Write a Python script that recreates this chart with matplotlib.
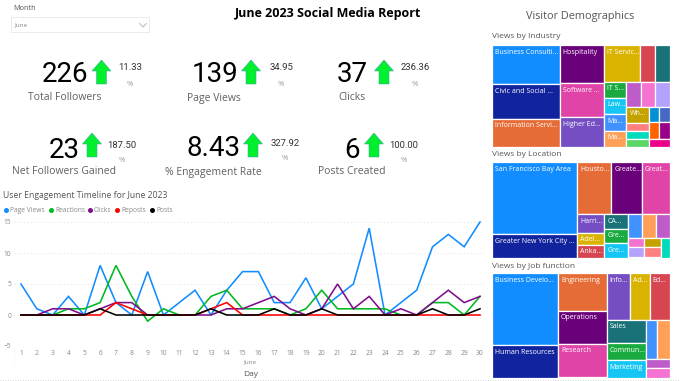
import matplotlib
matplotlib.use('Agg')
import matplotlib.pyplot as plt
from matplotlib.patches import Rectangle

plt.rcParams['font.family'] = ['Open Sans', 'DejaVu Sans']

W, H = 680, 381

# line chart data
days = list(range(1, 31))
page_views = [5, 1, 0, 3, 0, 8, 2, 0, 7, 0, 2, 4, 0, 4, 7, 7, 2, 2, 6, 1, 3, 5, 14, 0, 2, 4, 11, 13, 11, 15]
reactions = [0, 0, 0, 1, 1, 2, 8, 3, -1, 1, 0, 0, 3, 4, 1, 1, 1, 0, 1, 4, 1, 1, 1, 1, 0, 0, 2, 2, 0, 3]
clicks = [0, 0, 1, 1, 0, 1, 2, 2, 0, 0, 0, 0, 0, 1, 1, 2, 3, 1, 0, 1, 5, 1, 3, 0, 1, 0, 2, 4, 2, 3]
reposts = [0, 0, 0, 0, 0, 0, 2, 1, 0, 0, 0, 0, 1, 2, 0, 0, 0, 0, 0, 0, 0, 0, 0, 0, 0, 0, 0, 0, 0, 0]
posts = [0, 0, 0, 0, 0, 1, 0, 0, 0, 0, 0, 0, 1, 0, 0, 0, 1, 0, 0, 1, 0, 0, 0, 0, 0, 0, 1, 0, 0, 1]
y_ticks = [-5, 0, 5, 10, 15]

# kpi cards
kpi_values = ['226', '139', '37', '23', '8.43', '6']
kpi_labels = ['Total Followers', 'Page Views', 'Clicks', 'Net Followers Gained', '% Engagement Rate', 'Posts Created']
kpi_changes = ['11.33', '34.95', '236.36', '187.50', '327.92', '100.00']

# treemap data
palette = ['#118DFF', '#12239E', '#E66C37', '#6B007B', '#E044A7', '#744EC2', '#D9B300', '#D64550', '#197278',
           '#1AAB40', '#15C6F4', '#4092FF', '#FFA058', '#BE5DC9', '#F472D0', '#B5A1FF', '#C4A200', '#FF8080',
           '#00DBBC', '#5BD667', '#0091D5', '#4668C5', '#FF6300', '#99008A', '#EC008C']

industry_values = [22.8, 19.8, 16.2, 14.6, 12.9, 11.1, 11.3, 4.5, 4.6, 3.1, 3.1, 3.1, 3.0, 3.1, 3.1, 3.1,
                   3.0, 1.5, 1.5, 1.5, 1.4, 1.4, 1.45, 1.45, 1.4]
industry_labels = ['Business Consulti...', 'Civic and Social ...', 'Information Servi...', 'Hospitality',
                   'Software ...', 'Higher Ed...', 'IT Servic...', '', '', 'IT S...', 'Law...', 'Ma...', 'Ma...',
                   '', '', '', 'Wh...']
location_values = [52.6, 17.1, 15.2, 13.7, 12.2, 4.3, 2.8, 3.0, 2.9, 2.9, 2.9, 2.9, 2.9, 2.8, 1.35, 1.45,
                   1.35, 1.45, 1.4]
location_labels = ['San Francisco Bay Area', 'Greater New York City ...', 'Housto...', 'Greate...', 'Great...',
                   'Harri...', 'Adel...', 'Anka...', 'CA...', 'Gre...', 'Gre...']
job_values = [40.9, 18.2, 15.7, 13.7, 14.0, 9.6, 7.8, 7.9, 7.8, 5.7, 5.7, 3.9, 4.1, 1.9, 1.9]
job_labels = ['Business Develo...', 'Human Resources', 'Engineering', 'Operations', 'Research', 'Info...', 'Ad...',
              'Ed...', 'Sales', 'Commun...', 'Marketing']

industry_tree = ('h', [('v', [0, 1, 2]), ('v', [3, 4, 5]),
                       ('v', [('h', [6, 7, 8]),
                              ('h', [('v', [9, 10, 11, 12]),
                                     ('v', [('h', [13, 14, 15]),
                                            ('h', [('v', [16, 17, 18, 19]),
                                                   ('v', [('h', [20, 21]), ('h', [22, 23]), 24])])])])])])
location_tree = ('h', [('v', [0, 1]),
                       ('v', [('h', [2, 3, 4]),
                              ('h', [('v', [5, 6, 7]), ('v', [8, 9, 10]),
                                     ('v', [('h', [11, 12, 13]),
                                            ('h', [('v', [14, 15]), ('v', [16, 17]), 18])])])])])
job_tree = ('h', [('v', [0, 1]), ('v', [2, 3, 4]),
                  ('v', [('h', [5, 6, 7]),
                         ('h', [('v', [8, 9, 10]), ('v', [('h', [11, 12]), 13, 14])])])])


def px_axes(fig, x0, y0, x1, y1):
    # axes placed by pixel box, y measured from the top
    return fig.add_axes([x0 / W, 1 - y1 / H, (x1 - x0) / W, (y1 - y0) / H])


def node_sum(node, values):
    if isinstance(node, int):
        return values[node]
    return sum(node_sum(c, values) for c in node[1])


def layout(node, values, x, y, w, h, out):
    # split the box along the node direction, in proportion to the values
    if isinstance(node, int):
        out[node] = (x, y, w, h)
        return
    total = node_sum(node, values)
    for child in node[1]:
        share = node_sum(child, values) / total
        if node[0] == 'h':
            layout(child, values, x, y, w * share, h, out)
            x += w * share
        else:
            layout(child, values, x, y, w, h * share, out)
            y += h * share


def treemap(fig, box, tree, values, labels):
    ax = px_axes(fig, *box)
    ax.set_xlim(0, box[2] - box[0])
    ax.set_ylim(box[3] - box[1], 0)
    ax.axis('off')
    rects = {}
    layout(tree, values, 0, 0, box[2] - box[0], box[3] - box[1], rects)
    for i in range(len(values)):
        x, y, w, h = rects[i]
        ax.add_patch(Rectangle((x, y), w, h, facecolor=palette[i], edgecolor='white', linewidth=0.9))
        if i < len(labels) and labels[i]:
            ax.text(x + 3, y + 7, labels[i], color='white', fontsize=5, va='center', ha='left')


def arrow(ax, cx, top, color='#00F02D'):
    xs = [cx, cx + 9.5, cx + 5, cx + 5, cx - 5, cx - 5, cx - 9.5]
    ys = [top, top + 11, top + 11, top + 24, top + 24, top + 11, top + 11]
    ax.fill(xs, ys, facecolor=color, edgecolor='#3FA9A0', linewidth=0.4, zorder=3)


fig = plt.figure(figsize=(W / 100, H / 100), dpi=100, facecolor='white')

# pixel overlay for the loose text
bg = fig.add_axes([0, 0, 1, 1])
bg.set_xlim(0, W)
bg.set_ylim(H, 0)
bg.axis('off')

bg.text(328.5, 14, 'June 2023 Social Media Report', fontsize=9, fontweight='bold', color='black', ha='center', va='center')
bg.text(580.5, 16, 'Visitor Demographics', fontsize=7.8, color='#555555', ha='center', va='center')

# month slicer
bg.text(13, 9, 'Month', fontsize=5.2, color='#555555', va='center')
bg.add_patch(Rectangle((11, 17), 138, 15, facecolor='white', edgecolor='#EBEBEB', linewidth=0.7))
bg.text(14, 25, 'June', fontsize=4.6, color='#888888', va='center')
bg.plot([139.5, 143, 146.5], [23.5, 27, 23.5], color='#AAAAAA', linewidth=0.6)

# kpi cards: number centre, arrow centre, change centre, label centre
num_x = [65, 215, 352, 64, 214, 352]
arrow_x = [101.5, 251, 384, 92, 253, 374]
chg_x = [130, 281, 415, 122, 285, 404]
pct_y = [85, 84, 85, 161, 159, 161]
chg_y = [68, 68, 68, 145, 143, 145]
lab_x = [65, 214, 352, 64, 213, 352]
num_y = [72, 72, 72, 147, 146, 147]
arrow_top = [60, 60, 60, 133, 133, 133]
lab_y = [97, 98, 98, 171, 172, 172]
for i in range(6):
    bg.text(num_x[i], num_y[i], kpi_values[i], fontsize=20, color='black', ha='center', va='center_baseline', family='Roboto')
    arrow(bg, arrow_x[i], arrow_top[i])
    bg.text(chg_x[i], chg_y[i], kpi_changes[i], fontsize=6.8, color='#333333', ha='center', va='center', family='Roboto')
    bg.text(chg_x[i], pct_y[i], '%', fontsize=5.6, color='#999999', ha='center', va='center')
    bg.text(lab_x[i], lab_y[i], kpi_labels[i], fontsize=7.5, color='#606060', ha='center', va='center')

# engagement timeline
bg.text(3, 195, 'User Engagement Timeline for June 2023', fontsize=6.2, color='#555555', va='center')
legend_names = ['Page Views', 'Reactions', 'Clicks', 'Reposts', 'Posts']
legend_cols = ['#118DFF', '#00B81F', '#7F0F8C', '#FF0000', '#000000']
legend_x = [6, 51, 90, 117, 152]
for name, col, lx in zip(legend_names, legend_cols, legend_x):
    bg.plot([lx], [210], 'o', color=col, markersize=3.6, markeredgewidth=0)
    bg.text(lx + 4, 210, name, fontsize=4.8, color='#888888', va='center')

ax = px_axes(fig, 14, 222, 484, 346)
ax.set_facecolor('none')
step = (480 - 21) / 29
ax.set_xlim(1 - (21 - 14) / step, 30 + (484 - 480) / step)
ax.set_ylim(-5, 15)
series = [page_views, reactions, clicks, reposts, posts]
for vals, col, name in zip(series, legend_cols, legend_names):
    ax.plot(days, vals, color=col, linewidth=1.15, label=name, solid_joinstyle='miter', clip_on=False)
ax.set_yticks(y_ticks)
ax.set_xticks(days)
ax.grid(axis='y', color='#D8D8D8', linestyle=(0, (1, 3)), linewidth=0.6)
ax.set_axisbelow(True)
for s in ax.spines.values():
    s.set_visible(False)
ax.tick_params(length=0, labelsize=4.8, labelcolor='#888888')
ax.tick_params(axis='y', pad=2)
ax.tick_params(axis='x', pad=3)
bg.text(250, 362, 'June', fontsize=4.6, color='#888888', ha='center', va='center')
bg.text(251, 374, 'Day', fontsize=6, color='#555555', ha='center', va='center')
bg.plot([14, 14], [348, 368], color='#DDDDDD', linewidth=0.5, linestyle=(0, (1, 3)))
bg.plot([0, W], [380, 380], color='#CCCCCC', linewidth=0.6, linestyle=(0, (1, 2)))

# treemaps
bg.text(492, 37, 'Views by Industry', fontsize=6, color='#555555', va='center')
bg.text(492, 155, 'Views by Location', fontsize=6, color='#555555', va='center')
bg.text(492, 266, 'Views by Job function', fontsize=6, color='#555555', va='center')
treemap(fig, (492, 45, 669.5, 146.5), industry_tree, industry_values, industry_labels)
treemap(fig, (492, 162.5, 669.5, 257.5), location_tree, location_values, location_labels)
treemap(fig, (492, 273, 669.5, 377.5), job_tree, job_values, job_labels)

fig.savefig('out.png', dpi=100)
